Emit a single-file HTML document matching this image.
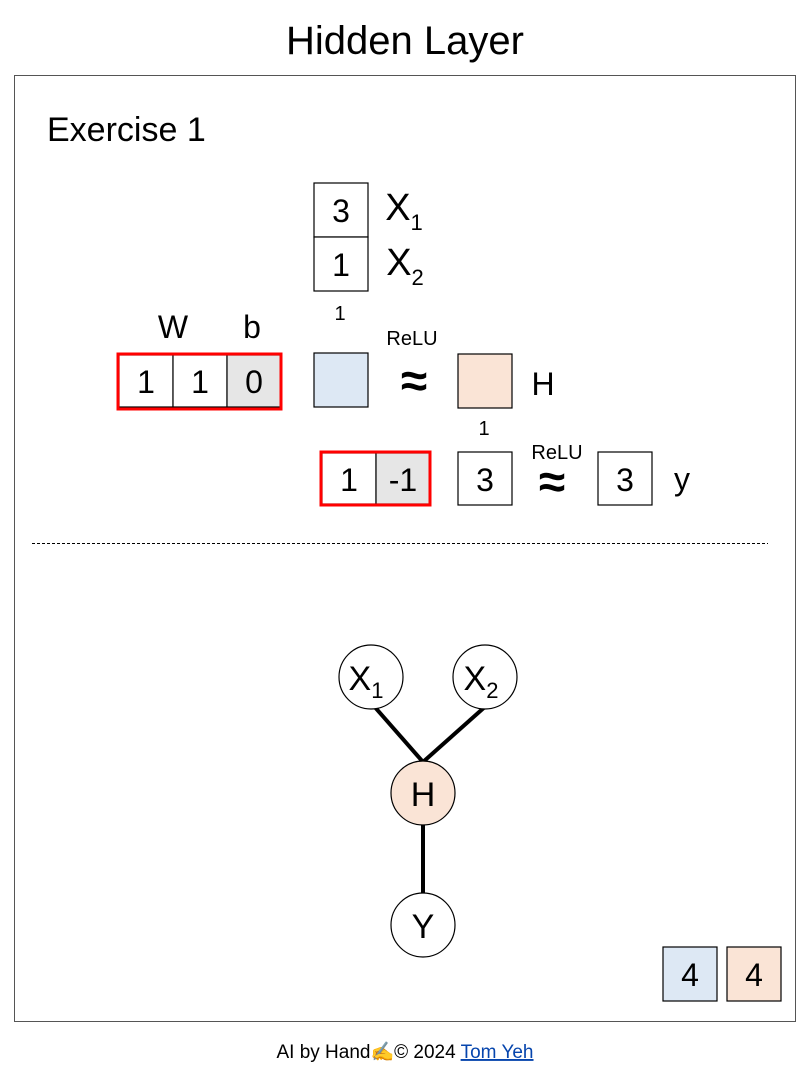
<!DOCTYPE html>
<html><head><style>
body{margin:0;width:810px;height:1080px;background:#fff;}
svg text{font-family:"Liberation Sans",sans-serif;}
</style></head><body>
<svg width="810" height="1080" xmlns="http://www.w3.org/2000/svg">
<text x="405" y="54" font-size="40" text-anchor="middle">Hidden Layer</text>
<rect x="14.5" y="75.5" width="781" height="946" fill="none" stroke="#555" stroke-width="1"/>
<text x="47" y="141" font-size="34">Exercise 1</text>
<g stroke="#000" stroke-width="1.2">
<rect x="314" y="183" width="54" height="54" fill="#fff"/>
<rect x="314" y="237" width="54" height="54" fill="#fff"/>
<rect x="119" y="355" width="54" height="52" fill="#fff"/>
<rect x="173" y="355" width="54" height="52" fill="#fff"/>
<rect x="227" y="355" width="54" height="52" fill="#e6e6e6"/>
<rect x="314" y="353" width="54" height="54" fill="#dde8f4"/>
<rect x="458" y="354" width="54" height="54" fill="#fae4d6"/>
<rect x="322" y="453" width="54" height="51" fill="#fff"/>
<rect x="376" y="453" width="54" height="51" fill="#e6e6e6"/>
<rect x="458" y="452" width="54" height="53" fill="#fff"/>
<rect x="598" y="452" width="54" height="53" fill="#fff"/>
</g>
<rect x="118" y="354" width="163" height="55" fill="none" stroke="#f00" stroke-width="3"/>
<rect x="321" y="452" width="109" height="53" fill="none" stroke="#f00" stroke-width="3"/>
<g font-size="32" text-anchor="middle">
<text x="341" y="222">3</text><text x="341" y="276">1</text>
<text x="146" y="393">1</text><text x="200" y="393">1</text><text x="254" y="393">0</text>
<text x="349" y="491">1</text><text x="403" y="491">-1</text>
<text x="485" y="491">3</text><text x="625" y="491">3</text>
<text x="404" y="220" font-size="38">X<tspan font-size="22" dy="10">1</tspan></text>
<text x="405" y="275" font-size="38">X<tspan font-size="22" dy="10">2</tspan></text>
<text x="173" y="338">W</text><text x="252" y="338">b</text>
<text x="543" y="395">H</text><text x="682" y="490">y</text>
<text x="414" y="397" font-size="48" font-weight="bold">≈</text><text x="552" y="498" font-size="48" font-weight="bold">≈</text>
<text x="412" y="345" font-size="20">ReLU</text><text x="557" y="459" font-size="20">ReLU</text>
<text x="340" y="320" font-size="20">1</text><text x="484" y="435" font-size="20">1</text>
</g>
<line x1="32" y1="543.5" x2="768" y2="543.5" stroke="#000" stroke-width="1" stroke-dasharray="3,2"/>
<g stroke="#000" stroke-width="4"><line x1="373" y1="705" x2="423" y2="762"/><line x1="487" y1="705" x2="423" y2="762"/><line x1="423" y1="825" x2="423" y2="893"/></g>
<g stroke="#000" stroke-width="1.2">
<circle cx="371" cy="677" r="32" fill="#fff"/><circle cx="485" cy="677" r="32" fill="#fff"/>
<circle cx="423" cy="793" r="32" fill="#fae4d6"/><circle cx="423" cy="925" r="32" fill="#fff"/>
</g>
<g font-size="34" text-anchor="middle">
<text x="366" y="690">X<tspan font-size="22" dy="8">1</tspan></text>
<text x="481" y="690">X<tspan font-size="22" dy="8">2</tspan></text>
<text x="423" y="806">H</text><text x="423" y="938">Y</text>
</g>
<g stroke="#000" stroke-width="1.2"><rect x="663" y="947" width="54" height="54" fill="#dde8f4"/><rect x="727" y="947" width="54" height="54" fill="#fae4d6"/></g>
<g font-size="32" text-anchor="middle"><text x="690" y="986">4</text><text x="754" y="986">4</text></g>
<text x="405" y="1058" font-size="19" text-anchor="middle">AI by Hand✍️©  2024 <tspan fill="#0645ad" text-decoration="underline">Tom Yeh</tspan></text>
</svg>
</body></html>
